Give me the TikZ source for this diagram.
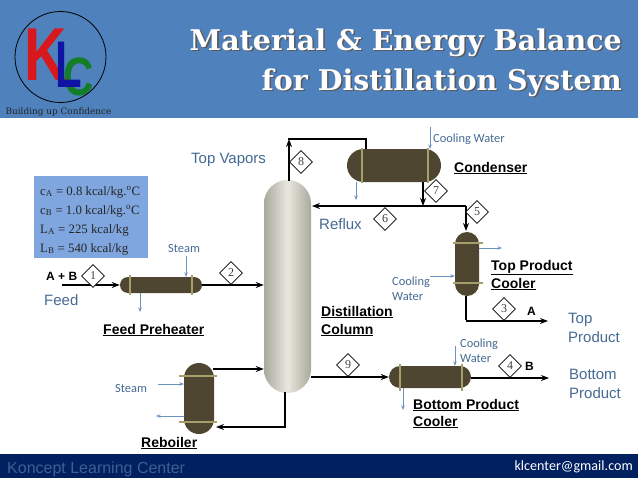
\documentclass[tikz,border=0pt]{standalone}
\usepackage{fontspec}
\setmainfont{Liberation Sans}
\newfontfamily\titlefont{DejaVu Serif}
\newfontfamily\calfont{Carlito}
\newfontfamily\numfont{Liberation Serif}
\usetikzlibrary{arrows.meta,shapes.geometric,calc}
\definecolor{headblue}{HTML}{4F81BD}
\definecolor{navy}{HTML}{002060}
\definecolor{boxblue}{HTML}{7FA6DE}
\definecolor{shell}{HTML}{4E4630}
\definecolor{band}{HTML}{A79F6B}
\definecolor{labelblue}{HTML}{456A93}
\definecolor{flowblue}{HTML}{6B93C0}
\definecolor{footblue}{HTML}{3F5F93}
\definecolor{colside}{HTML}{A9A99D}
\definecolor{colmid}{HTML}{E8E8DF}
\newcommand{\shadowed}[1]{\makebox[0pt][l]{\hspace{1.6pt}\raisebox{-1.6pt}{\color{black!65}#1}}#1}
\tikzset{
 pipe/.style={draw=black,line width=1.6pt,-{Stealth[length=8pt,width=6pt]}},
 plainpipe/.style={draw=black,line width=1.6pt},
 flow/.style={draw=flowblue,line width=.8pt,-{Stealth[length=4.5pt,width=3.5pt]}},
 shelltube/.style={fill=shell,draw=none,inner sep=0pt},
 bandline/.style={draw=band,line width=2pt},
 tag/.style={diamond,draw=black,fill=white,line width=.7pt,inner sep=0pt,minimum width=23pt,minimum height=23pt,font=\numfont\fontsize{12}{12}\selectfont,text=black!75},
 lab/.style={anchor=base west,inner sep=0pt,text=labelblue,font=\fontsize{15}{19}\selectfont,align=left},
 small/.style={anchor=base west,inner sep=0pt,text=labelblue,font=\calfont\fontsize{12.4}{15}\selectfont,align=left},
 eqlab/.style={anchor=base west,inner sep=0pt,text=black,font=\bfseries\fontsize{14}{18}\selectfont,align=left},
 stream/.style={anchor=base west,inner sep=0pt,text=black,font=\bfseries\fontsize{12}{12}\selectfont},
 prop/.style={anchor=base west,inner sep=0pt,text=black!85,font=\numfont\fontsize{12.8}{13}\selectfont},
 logoletter/.style={inner sep=0pt,font=\bfseries,transform shape},
}
\begin{document}
\begin{tikzpicture}[x=1pt,y=-1pt]
\useasboundingbox (0,0) rectangle (638,479);
\fill[white] (0,0) rectangle (638,479);
% header and footer
\fill[headblue] (0,0) rectangle (638,118);
\fill[navy] (0,453.5) rectangle (638,477.5);
% logo
\node[logoletter,text={rgb,255:red,20;green,125;blue,40},anchor=base,xscale=.78] (logoC) at (79,95) {\fontsize{54}{54}\selectfont C};
\node[logoletter,text={rgb,255:red,215;green,25;blue,30},anchor=base,xscale=.78] (logoK) at (46,80) {\fontsize{75}{75}\selectfont K};
\node[logoletter,text={rgb,255:red,15;green,20;blue,165},anchor=base,xscale=.66] (logoL) at (69,87) {\fontsize{66}{66}\selectfont L};
\node[circle,draw=black,line width=.8pt,minimum size=91pt,inner sep=0pt] (logoring) at (60.5,57) {};
\node[anchor=base,inner sep=0pt,text=black!85,font=\titlefont\fontsize{8.9}{9}\selectfont] (motto) at (58.5,114) {Building up Confidence};
% title
\node[anchor=base east,inner sep=0pt,text=white,font=\titlefont\bfseries\fontsize{28.5}{29}\selectfont] (title1) at (622,50) {\shadowed{Material \& Energy Balance}};
\node[anchor=base east,inner sep=0pt,text=white,font=\titlefont\bfseries\fontsize{28.5}{29}\selectfont] (title2) at (622,90) {\shadowed{for Distillation System}};
% footer
\node[anchor=base west,inner sep=0pt,text=footblue,font=\fontsize{16}{16}\selectfont] (foot1) at (7,473) {Koncept Learning Center};
\node[anchor=base east,inner sep=0pt,text=white,font=\calfont\fontsize{14.1}{14}\selectfont] (foot2) at (633,470) {klcenter@gmail.com};
% equipment
\node[rectangle,rounded corners=23.5pt,inner sep=0pt,minimum width=47pt,minimum height=213pt,left color=colside,right color=colside,middle color=colmid] (col) at (287.5,286.5) {};
\node[shelltube,rounded corners=16.5pt,minimum width=94pt,minimum height=33pt] (cond) at (394,165.5) {};
\node[shelltube,rounded corners=12pt,minimum width=24pt,minimum height=64pt] (tpc) at (467,264) {};
\node[shelltube,rounded corners=11pt,minimum width=82pt,minimum height=22pt] (bpc) at (430,377) {};
\node[shelltube,rounded corners=8pt,minimum width=82pt,minimum height=16pt] (fp) at (161,285) {};
\node[shelltube,rounded corners=15pt,minimum width=30pt,minimum height=71pt] (reb) at (199,398.5) {};
% bands
\draw[bandline] (362,148) -- (362,183);
\draw[bandline] (427.5,148) -- (427.5,183);
\draw[bandline] (453,242.5) -- (483,242.5);
\draw[bandline] (453,283) -- (483,283);
\draw[bandline] (400,363.5) -- (400,391);
\draw[bandline] (462,363.5) -- (462,391);
\draw[bandline] (130,275) -- (130,295);
\draw[bandline] (192,275) -- (192,295);
\draw[bandline] (179,375.5) -- (217,375.5);
\draw[bandline] (179,422) -- (217,422);
% pipe end points
\coordinate (feedIn) at (62,285);
\coordinate (vapBase) at (289,181);
\coordinate (vapTop) at (289,139);
\coordinate (vapCond) at (366,149);
\coordinate (condOut) at (423,182);
\coordinate (tee) at (423,206);
\coordinate (split) at (466,206);
\coordinate (tpcIn) at (466,231);
\coordinate (refluxEnd) at (312,206);
\coordinate (tpcOut) at (466,296);
\coordinate (tpcCorner) at (466,321);
\coordinate (topEnd) at (548,321);
\coordinate (bpcEnd) at (549,378);
\coordinate (rebCorner) at (285,427);
\coordinate (rebBack) at (216,427);
\coordinate (colBot) at (285,392);
\coordinate (rebTop) at (213,369);
% process pipes
\draw[pipe] (feedIn) -- (fp.west);
\draw[pipe] (fp.east) -- (fp.east -| col.west);
\draw[pipe] (vapBase) -- (vapTop);
\draw[plainpipe] (vapCond) -- (vapTop -| vapCond) -- ([xshift=-.8pt]vapTop);
\draw[pipe] (condOut) -- (tee);
\draw[pipe] (split) -- (refluxEnd);
\draw[pipe,line width=2pt] (split) -- (tpcIn);
\draw[plainpipe] (tpcOut) -- ([yshift=.8pt]tpcCorner);
\draw[pipe] (tpcCorner) -- (topEnd);
\draw[pipe] (col.east |- bpc.west) -- (bpc.west);
\draw[pipe] ($(bpc.east)+(0,1)$) -- (bpcEnd);
\draw[pipe] (rebTop) -- (rebTop -| col.west);
\draw[pipe] (colBot) -- (rebCorner) -- (rebBack);
% utility flows
\coordinate (cwTop) at (430,127);
\coordinate (cwCond) at (430,149);
\coordinate (condDrainA) at (356,182);
\coordinate (condDrainB) at (356,200);
\coordinate (tpcCwOut) at (502,248);
\coordinate (tpcCwIn) at (430,276);
\coordinate (bpcCwTop) at (455,346);
\coordinate (bpcDrainB) at (403,410);
\coordinate (fpSteam) at (186,256);
\coordinate (fpDrainB) at (140,312);
\coordinate (rebSteam) at (158,384);
\coordinate (rebDrain) at (156,416);
\draw[flow] (cwTop) -- (cwCond);
\draw[flow] (condDrainA) -- (condDrainB);
\draw[flow] (tpc.east |- tpcCwOut) -- (tpcCwOut);
\draw[flow] (tpcCwIn) -- (tpcCwIn -| tpc.west);
\draw[flow] (bpcCwTop) -- (bpcCwTop |- bpc.north);
\draw[flow] (bpcDrainB |- bpc.south) -- (bpcDrainB);
\draw[flow] (fpSteam) -- (fpSteam |- fp.north);
\draw[flow] (fpDrainB |- fp.south) -- (fpDrainB);
\draw[flow] (rebSteam) -- (rebSteam -| reb.west);
\draw[flow] (rebDrain -| reb.west) -- (rebDrain);
% stream tags
\node[tag] (s1) at (93,276) {1};
\node[tag] (s2) at (231,273) {2};
\node[tag] (s3) at (504,309) {3};
\node[tag] (s4) at (510,366) {4};
\node[tag] (s5) at (477,212) {5};
\node[tag] (s6) at (385,219) {6};
\node[tag] (s7) at (436,191) {7};
\node[tag] (s8) at (301,162) {8};
\node[tag] (s9) at (348,365) {9};
% property box
\node[anchor=north west,fill=boxblue,inner sep=0pt,minimum width=114pt,minimum height=82pt] (propbox) at (33.5,176) {};
\node[prop] (p1) at (40,195) {c\textsubscript{A} = 0.8 kcal/kg.\textsuperscript{o}C};
\node[prop] (p2) at (40,214) {c\textsubscript{B} = 1.0 kcal/kg.\textsuperscript{o}C};
\node[prop] (p3) at (40,233) {L\textsubscript{A} = 225 kcal/kg};
\node[prop] (p4) at (40,252) {L\textsubscript{B} = 540 kcal/kg};
% labels
\node[lab] (lvap) at (191,163) {Top Vapors};
\node[lab] (lref) at (319,229) {Reflux};
\node[lab] (lfeed) at (44,305) {Feed};
\node[lab] (ltp1) at (568,323) {Top};
\node[lab] (ltp2) at (568,342) {Product};
\node[lab] (lbp1) at (569,379) {Bottom};
\node[lab] (lbp2) at (569,398) {Product};
\node[small] (c1) at (433,142) {Cooling Water};
\node[small] (c2) at (392,285) {Cooling};
\node[small] (c3) at (392,300) {Water};
\node[small] (c4) at (460,347) {Cooling};
\node[small] (c5) at (460,362) {Water};
\node[small] (st1) at (168,252.5) {Steam};
\node[small] (st2) at (115,392) {Steam};
\node[stream] (ab) at (46,280) {A + B};
\node[stream] (sa) at (527,315) {A};
\node[stream] (sb) at (525,370) {B};
\node[eqlab] (e1) at (454,172) {\underline{Condenser}};
\node[eqlab] (e2) at (491,270) {\underline{Top Product}};
\node[eqlab] (e3) at (491,288) {\underline{Cooler}};
\node[eqlab] (e4) at (321,316) {\underline{Distillation}};
\node[eqlab] (e5) at (321,334) {\underline{Column}};
\node[eqlab] (e6) at (103,334) {\underline{Feed Preheater}};
\node[eqlab] (e7) at (413,409) {\underline{Bottom Product}};
\node[eqlab] (e8) at (413,426) {\underline{Cooler}};
\node[eqlab] (e9) at (141,447) {\underline{Reboiler}};
\end{tikzpicture}
\end{document}
